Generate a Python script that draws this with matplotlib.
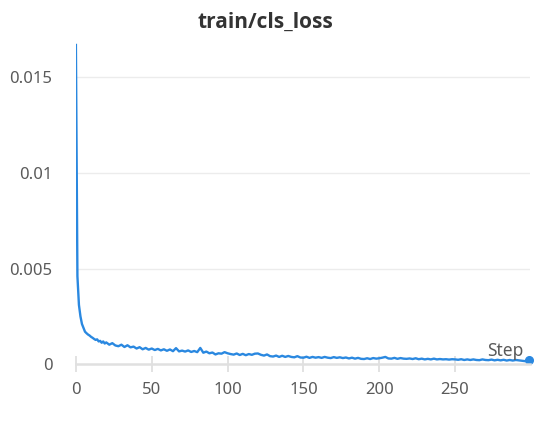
import numpy as np
import matplotlib
matplotlib.use("Agg")
import matplotlib.pyplot as plt

plt.rcParams['font.family'] = ['Noto Sans', 'DejaVu Sans']

# values (step -> loss)
steps_head = list(range(0, 20))
loss_head = [0.0167, 0.0046, 0.0031, 0.0025, 0.0021, 0.0019, 0.0017, 0.00162, 0.00155, 0.0015,
             0.00143, 0.00138, 0.00132, 0.00127, 0.0013, 0.00119, 0.00122, 0.00112, 0.00119, 0.00108]

steps_tail = list(range(20, 300, 2)) + [299]
loss_tail = [
    0.00114, 0.00102, 0.00110, 0.00098, 0.00094, 0.00102, 0.00090, 0.00099, 0.00088, 0.00092,
    0.00082, 0.00089, 0.00078, 0.00085, 0.00076, 0.00082, 0.00074, 0.00080, 0.00072, 0.00078,
    0.00070, 0.00077, 0.00068, 0.00084, 0.00067, 0.00071, 0.00066, 0.00072, 0.00064, 0.00069,
    0.00063, 0.00085, 0.00060, 0.00066, 0.00057, 0.00061, 0.00051, 0.00057, 0.00055, 0.00063,
    0.00057, 0.00053, 0.00050, 0.00056, 0.00048, 0.00054, 0.00047, 0.00053, 0.00049, 0.00055,
    0.00056, 0.00049, 0.00045, 0.00051, 0.00042, 0.00040, 0.00045, 0.00038, 0.00044, 0.00038,
    0.00043, 0.00038, 0.00036, 0.00042, 0.00035, 0.00034, 0.00039, 0.00033, 0.00038, 0.00034,
    0.00037, 0.00033, 0.00038, 0.00034, 0.00032, 0.00037, 0.00033, 0.00036, 0.00032, 0.00035,
    0.00030, 0.00034, 0.00029, 0.00033, 0.00028, 0.00027, 0.00031, 0.00027, 0.00032, 0.00029,
    0.00031, 0.00034, 0.00038, 0.00030, 0.00029, 0.00033, 0.00028, 0.00032, 0.00029, 0.00028,
    0.00030, 0.00027, 0.00031, 0.00026, 0.00029, 0.00025, 0.00028, 0.00025, 0.00029, 0.00025,
    0.00027, 0.00025, 0.00026, 0.00024, 0.00026, 0.00025, 0.00023, 0.00026, 0.00022, 0.00025,
    0.00022, 0.00025, 0.00022, 0.00021, 0.00025, 0.00022, 0.00021, 0.00024, 0.00020, 0.00023,
    0.00020, 0.00023, 0.00019, 0.00022, 0.00019, 0.00022, 0.00020, 0.00018, 0.00016, 0.00021,
    0.00022,
]

steps = steps_head + steps_tail
loss = loss_head + loss_tail

ytick_vals = [0, 0.005, 0.01, 0.015]
ytick_labels = ['0', '0.005', '0.01', '0.015']
xtick_vals = [0, 50, 100, 150, 200, 250]

line_color = '#2a88e0'

fig = plt.figure(figsize=(5.5, 4.22), dpi=100)
ax = fig.add_axes([0.138, 0.137, 0.826, 0.761])

ax.plot(steps, loss, color=line_color, lw=1.7, solid_joinstyle='round')
ax.plot(steps[-1], loss[-1], 'o', color=line_color, ms=5.5, clip_on=False)

ax.set_xlim(0, 299.5)
ax.set_ylim(0, 0.0168)

ax.set_yticks(ytick_vals)
ax.set_yticklabels(ytick_labels)
ax.set_xticks(xtick_vals)

for y in ytick_vals[1:]:
    ax.axhline(y, color='#ececec', lw=1, zorder=0)

for s in ['top', 'right', 'left']:
    ax.spines[s].set_visible(False)
ax.spines['bottom'].set_color('#e0e0e0')
ax.spines['bottom'].set_linewidth(1.8)

ax.tick_params(axis='y', length=0, pad=17, labelsize=12, labelcolor='#5a5a5a')
ax.tick_params(axis='x', direction='inout', length=12, width=1.2, color='#dddddd',
               pad=7, labelsize=12, labelcolor='#5a5a5a')

ax.text(0.985, 0.012, 'Step', transform=ax.transAxes, ha='right', va='bottom',
        fontsize=12.5, color='#5a5a5a')

fig.text(0.482, 0.948, 'train/cls_loss', ha='center', va='center',
         family=['Open Sans', 'DejaVu Sans'], fontsize=15, fontweight='bold', color='#333333')

fig.savefig('out.png', dpi=100)
